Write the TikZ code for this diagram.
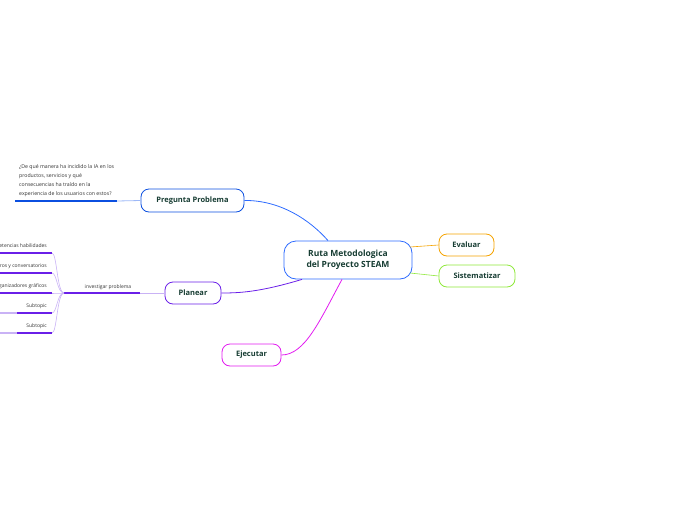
\documentclass[tikz,border=0pt]{standalone}
\usepackage{fontspec}
\setmainfont{Open Sans}
\definecolor{txt}{HTML}{173D33}
\definecolor{cb}{HTML}{2D6BFF}
\definecolor{pb}{HTML}{0B4FE0}
\definecolor{lpb}{HTML}{9DB8F7}
\definecolor{pu}{HTML}{6A1FE8}
\definecolor{lpu}{HTML}{C9B2F5}
\definecolor{mg}{HTML}{E21BF0}
\definecolor{og}{HTML}{F5A300}
\definecolor{gr}{HTML}{8FE83A}
\begin{document}
\begin{tikzpicture}[x=1pt,y=-1pt,
 topic/.style={draw=#1,rounded corners=8pt,line width=0.8pt,fill=white,font=\fontsize{7.5}{9}\selectfont\bfseries,text=txt,inner sep=0pt},
 small/.style={font=\fontsize{5}{6.5}\selectfont,text=black!80,inner sep=0pt},
 conn/.style={line width=0.8pt,draw=#1}]
\useasboundingbox (0,0) rectangle (697,520);
\node[topic=cb,minimum width=128pt,minimum height=38pt,align=center,font=\fontsize{8.5}{10.5}\selectfont\bfseries,rounded corners=12pt] (c) at (348,260) {Ruta Metodologica\\del Proyecto STEAM};
\node[topic=pb,minimum width=103pt,minimum height=23pt] (pp) at (192.5,200.5) {Pregunta Problema};
\node[topic=pu,minimum width=56pt,minimum height=22pt] (pl) at (193,293) {Planear};
\node[topic=mg,minimum width=59pt,minimum height=22pt] (ej) at (251.5,355) {Ejecutar};
\node[topic=og,minimum width=55pt,minimum height=22pt] (ev) at (466.5,245) {Evaluar};
\node[topic=gr,minimum width=76pt,minimum height=22pt] (si) at (477,276) {Sistematizar};
\draw[conn=cb] (c.north) ++(-20,0) .. controls (310,220) and (280,200) .. (pp.east);
\draw[conn=pu] (c.south) ++(-46,0) .. controls (260,292) and (240,293) .. (pl.east);
\draw[conn=mg] (c.south) ++(-6,0) .. controls (320,320) and (305,355) .. (ej.east);
\draw[conn=og,line width=0.6pt] (410,247) -- (ev.west);
\draw[conn=gr,line width=0.6pt] (410,273) -- (si.west);
% pregunta branch
\coordinate (p1) at (117,201); \coordinate (p0) at (15,201);
\draw[line width=0.8pt,draw=lpb] (pp.west) -- (p1);
\draw[line width=1.2pt,draw=pb] (p1) -- (p0);
\node[small,anchor=south west,align=flush left,text width=96pt,font=\fontsize{5.2}{9}\selectfont] (pt) at (19,197) {\hyphenpenalty=10000 ¿De qué manera ha incidido la IA en los productos, servicios y qué consecuencias ha traído en la experiencia de los usuarios con estos?};
% planear branch
\coordinate (q1) at (140,293); \coordinate (q0) at (64,293);
\draw[line width=0.8pt,draw=lpu] (pl.west) -- (q1);
\draw[line width=1.2pt,draw=pu] (q1) -- (q0);
\node[small,anchor=south] (ip) at (108,290) {investigar problema};
\foreach \y/\t/\n in {253/Competencias habilidades/a,273/Foros y conversatorios/b,293/Organizadores gráficos/c}{
 \coordinate (e\n) at (52,\y);
 \draw[line width=0.6pt,draw=lpu] (q0) .. controls (57,293) and (57,\y) .. (e\n);
 \draw[line width=1.2pt,draw=pu] (e\n) -- (0,\y);
 \node[small,anchor=south east] (l\n) at (47,\y-4) {\t};
}
\foreach \y/\n in {313/d,333/e}{
 \coordinate (e\n) at (52,\y);
 \coordinate (f\n) at (17,\y);
 \draw[line width=0.6pt,draw=lpu] (q0) .. controls (57,293) and (57,\y) .. (e\n);
 \draw[line width=1.2pt,draw=pu] (e\n) -- (f\n);
 \draw[line width=1.2pt,draw=lpu] (f\n) -- (0,\y);
 \node[small,anchor=south east] (l\n) at (47,\y-4) {Subtopic};
}
\end{tikzpicture}
\end{document}
